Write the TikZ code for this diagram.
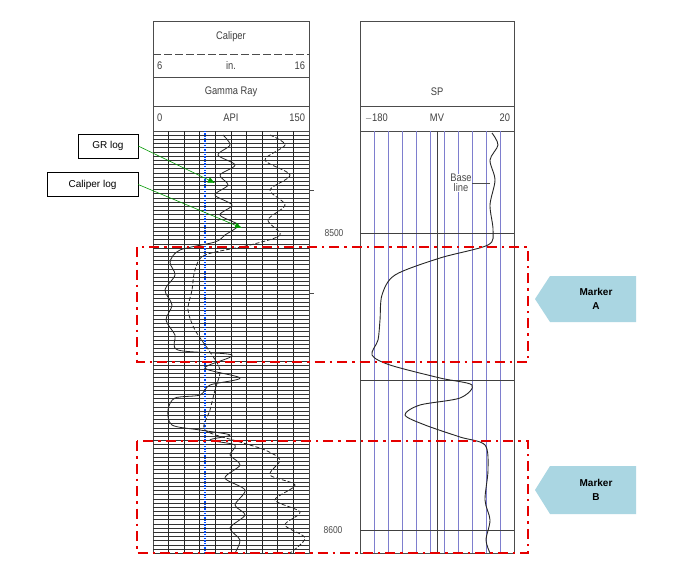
\documentclass[tikz,border=0pt]{standalone}
\usepackage{fontspec}
\setmainfont{Liberation Sans}
\usetikzlibrary{shapes.arrows,shapes.geometric,arrows.meta}
\definecolor{mk}{RGB}{170,214,226}
\begin{document}
\begin{tikzpicture}[x=1pt,y=-1pt,
  hdr/.style={font=\fontsize{11}{12}\selectfont,text=black!75,xscale=0.85},
  redbox/.style={draw=red!90!black,line width=1.8pt,dash pattern=on 10pt off 5pt on 2.5pt off 5pt},
  callout/.style={draw=black,fill=white,font=\fontsize{10}{11}\selectfont,inner sep=0pt,minimum height=24pt},
  grn/.style={draw=green!60!black,-{Latex[length=7pt,width=6pt]},line width=0.6pt}]
\useasboundingbox (0,0) rectangle (700,573);
\fill[white] (0,0) rectangle (700,573);
% left track header
\draw[black!70,line width=0.7pt] (153,21) rectangle (309,553);
\draw[black!70,dash pattern=on 8pt off 3pt,line width=0.8pt] (153,54) -- (309,54);
\draw[black!70,line width=0.7pt] (153,77) -- (309,77) (153,106) -- (309,106) (153,131) -- (309,131);
\node[hdr] (cal) at (231,37) {Caliper};
\node[hdr,anchor=west] (c6) at (154,66) {6};
\node[hdr] (cin) at (231,66) {in.};
\node[hdr,anchor=east] (c16) at (308,66) {16};
\node[hdr] (gr) at (231,92) {Gamma Ray};
\node[hdr,anchor=west] (g0) at (154,118) {0};
\node[hdr] (gapi) at (231,118) {API};
\node[hdr,anchor=east] (g150) at (308,118) {150};
% grid
\foreach \i in {1,...,101} \draw[black!80,line width=0.55pt] (153,{131+\i*4.18}) -- (309,{131+\i*4.18});
\foreach \i in {1,...,9} \draw[black!85,line width=0.8pt] ({153+\i*15.6},131) -- ({153+\i*15.6},553);
\draw[black!70] (309,190) -- (314,190) (309,293) -- (314,293);
\draw[blue!70!cyan,densely dotted,line width=1.3pt] (205,131) -- (205,553);
% GR curve
\draw[black!85,line width=0.8pt] plot[smooth] coordinates {(223,135)(230,145)(218,155)(235,165)(220,175)(228,185)(215,195)(232,205)(220,215)(238,225)(225,235)(215,242)(180,250)(170,262)(175,275)(165,290)(172,305)(166,320)(175,335)(178,350)(232,355)(205,368)(240,378)(210,385)(200,395)(175,398)(168,410)(172,425)(200,430)(230,435)(210,440)(235,445)(230,455)(240,465)(225,478)(245,490)(235,505)(245,515)(230,528)(240,540)(235,553)};
% caliper curve
\draw[black!85,line width=0.8pt,dash pattern=on 4pt off 2pt] plot[smooth] coordinates {(270,135)(285,145)(265,160)(290,175)(270,190)(285,205)(268,220)(280,235)(250,245)(205,255)(195,270)(192,290)(188,310)(195,330)(210,352)(220,370)(215,390)(210,410)(205,430)(240,442)(265,450)(280,460)(270,475)(295,485)(275,500)(300,512)(285,525)(305,538)(290,553)};
\node[font=\fontsize{10}{11}\selectfont,text=black!70,xscale=0.85] (d85) at (334,233) {8500};
\node[font=\fontsize{10}{11}\selectfont,text=black!70,xscale=0.85] (d86) at (333,530) {8600};
% right track
\draw[black!70,line width=0.7pt] (360,21) rectangle (514,553);
\draw[black!70,line width=0.7pt] (360,106) -- (514,106) (360,131) -- (514,131);
\node[hdr] (sp) at (437,92) {SP};
\node[hdr,anchor=west] (s1) at (362,118) {$-$180};
\node[hdr] (smv) at (437,118) {MV};
\node[hdr,anchor=east] (s20) at (513,118) {20};
\foreach \i in {1,...,10} \draw[blue!45!gray!70,line width=0.7pt] ({360+\i*14},131) -- ({360+\i*14},553);
\draw[black!75,line width=0.8pt] (437,131) -- (437,553);
\draw[black!75,line width=0.8pt] (360,233) -- (514,233) (360,380) -- (514,380) (360,530) -- (514,530);
\draw[black!85,line width=0.9pt] plot[smooth] coordinates {(492,133)(498,145)(490,160)(495,180)(490,205)(493,230)(488,245)(440,258)(395,275)(382,295)(380,320)(378,340)(372,355)(390,365)(440,378)(472,385)(460,398)(420,405)(405,415)(425,425)(460,437)(485,445)(488,470)(485,500)(490,520)(486,540)(490,553)};
\node[font=\fontsize{11}{10}\selectfont,text=black!70,align=center,fill=white,inner sep=0.5pt,xscale=0.85] (bl) at (461,183) {Base\\line};
\draw[black!70] (bl.east) -- (490,183);
% red boxes
\draw[redbox] (137,247) rectangle (528,362);
\draw[redbox] (137,441) rectangle (528,553);
% callouts
\node[callout,minimum width=60pt] (grlog) at (108,146) {GR log};
\node[callout,minimum width=91pt] (callog) at (92.5,184.5) {Caliper log};
\coordinate (grend) at (215,183);
\coordinate (calend) at (242,228);
\draw[grn] (grlog.east) -- (grend);
\draw[grn] (callog.east) -- (calend);
% markers
\fill[mk] (535,299) -- (550,276) -- (636,276) -- (636,322) -- (550,322) -- cycle;
\node[font=\bfseries\fontsize{10}{14}\selectfont,align=center] (ma) at (596,299) {Marker\\A};
\fill[mk] (535,490) -- (550,466) -- (636,466) -- (636,514) -- (550,514) -- cycle;
\node[font=\bfseries\fontsize{10}{14}\selectfont,align=center] (mb) at (596,490) {Marker\\B};
\end{tikzpicture}
\end{document}
